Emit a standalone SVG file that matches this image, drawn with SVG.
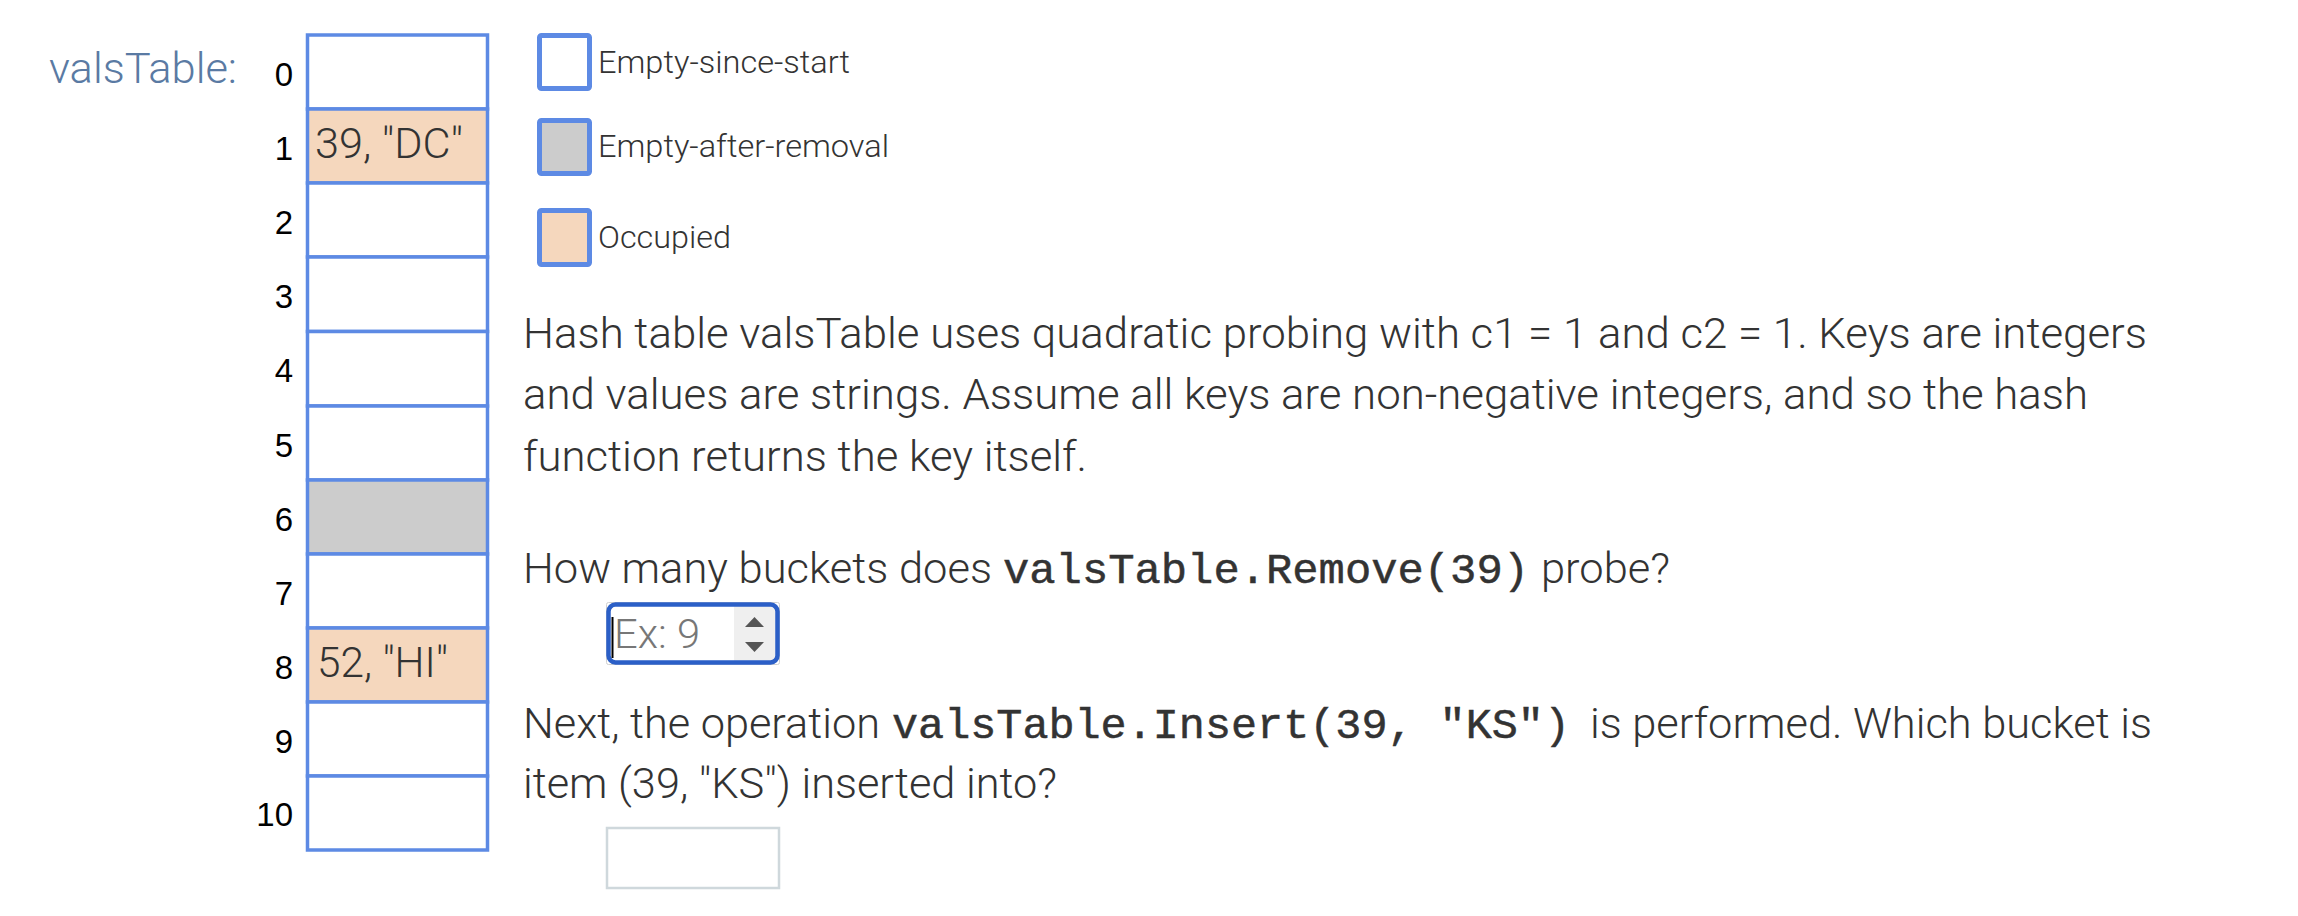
<svg xmlns="http://www.w3.org/2000/svg" width="2298" height="916" viewBox="0 0 2298 916">
<style>
.cell{stroke:#5d8ae4;stroke-width:3.5}
.empty{fill:#ffffff}
.occ{fill:#f5d7bd}
.rem{fill:#cccccc}
.idx{font-family:"Liberation Sans",Arial,sans-serif;font-size:33px;fill:#000;text-anchor:end}
.body{font-family:Roboto,"Noto Sans",sans-serif;font-weight:300;font-size:42px;fill:#333}
.leg{font-family:Roboto,"Noto Sans",sans-serif;font-weight:300;font-size:31px;fill:#333}
.mono{font-family:"Liberation Mono","Courier New",monospace;font-weight:normal;font-size:43px;fill:#333;stroke:#333;stroke-width:0.5}
.lbox{stroke:#5d8ae4;stroke-width:5}
</style>
<rect width="2298" height="916" fill="#ffffff"/>
<g id="title">
<text x="49" y="83" style="font-family:Roboto,'Noto Sans',sans-serif;font-weight:300;font-size:42px;fill:#5a7aa3" textLength="188" lengthAdjust="spacingAndGlyphs">valsTable:</text>
</g>
<g id="table">
<rect id="b0" class="cell empty" x="307.5" y="35" width="180" height="74"/>
<rect id="b1" class="cell occ" x="307.5" y="109" width="180" height="74"/>
<rect id="b2" class="cell empty" x="307.5" y="183" width="180" height="74"/>
<rect id="b3" class="cell empty" x="307.5" y="257" width="180" height="74.5"/>
<rect id="b4" class="cell empty" x="307.5" y="331.5" width="180" height="74.5"/>
<rect id="b5" class="cell empty" x="307.5" y="406" width="180" height="74"/>
<rect id="b6" class="cell rem" x="307.5" y="480" width="180" height="74"/>
<rect id="b7" class="cell empty" x="307.5" y="554" width="180" height="74"/>
<rect id="b8" class="cell occ" x="307.5" y="628" width="180" height="74"/>
<rect id="b9" class="cell empty" x="307.5" y="702" width="180" height="74"/>
<rect id="b10" class="cell empty" x="307.5" y="776" width="180" height="74"/>
<text class="body" x="315" y="158" textLength="148" lengthAdjust="spacingAndGlyphs">39, "DC"</text>
<text class="body" x="317" y="677" textLength="131" lengthAdjust="spacingAndGlyphs">52, "HI"</text>
<text class="idx" x="293" y="86">0</text>
<text class="idx" x="293" y="160">1</text>
<text class="idx" x="293" y="234">2</text>
<text class="idx" x="293" y="308">3</text>
<text class="idx" x="293" y="382">4</text>
<text class="idx" x="293" y="457">5</text>
<text class="idx" x="293" y="531">6</text>
<text class="idx" x="293" y="605">7</text>
<text class="idx" x="293" y="679">8</text>
<text class="idx" x="293" y="753">9</text>
<text class="idx" x="293" y="826">10</text>
</g>
<g id="legend">
<g id="leg-empty-start">
<rect class="lbox empty" x="539.5" y="35.5" width="50" height="53" rx="2"/>
<text class="leg" x="598" y="73" textLength="252" lengthAdjust="spacingAndGlyphs">Empty-since-start</text>
</g>
<g id="leg-empty-removal">
<rect class="lbox rem" x="539.5" y="120.5" width="50" height="53" rx="2"/>
<text class="leg" x="598" y="157" textLength="291" lengthAdjust="spacingAndGlyphs">Empty-after-removal</text>
</g>
<g id="leg-occupied">
<rect class="lbox occ" x="539.5" y="210.5" width="50" height="54" rx="2"/>
<text class="leg" x="598" y="248" textLength="133" lengthAdjust="spacingAndGlyphs">Occupied</text>
</g>
</g>
<g id="description">
<text class="body" x="523" y="348" textLength="1624" lengthAdjust="spacingAndGlyphs">Hash table valsTable uses quadratic probing with c1 = 1 and c2 = 1. Keys are integers</text>
<text class="body" x="523" y="409" textLength="1565" lengthAdjust="spacingAndGlyphs">and values are strings. Assume all keys are non-negative integers, and so the hash</text>
<text class="body" x="523" y="471" textLength="564" lengthAdjust="spacingAndGlyphs">function returns the key itself.</text>
</g>
<g id="question1">
<text class="body" x="523" y="583" textLength="469" lengthAdjust="spacingAndGlyphs">How many buckets does</text>
<text class="mono" x="1003" y="583" textLength="526" lengthAdjust="spacingAndGlyphs">valsTable.Remove(39)</text>
<text class="body" x="1541" y="583" textLength="129" lengthAdjust="spacingAndGlyphs">probe?</text>
</g>
<g id="answer1">
<rect x="606.5" y="602.5" width="173" height="62" rx="2" fill="#ffffff" stroke="#d0d0d0" stroke-width="1"/>
<rect x="734" y="606" width="42" height="55" fill="#efefef"/>
<rect x="608.5" y="604.5" width="169" height="58" rx="7" fill="none" stroke="#2b5fc7" stroke-width="4.5"/>
<line x1="612.5" y1="617" x2="612.5" y2="658" stroke="#000" stroke-width="2"/>
<text x="614" y="648" style="font-family:Roboto,'Noto Sans',sans-serif;font-weight:300;font-size:40px;fill:#777" textLength="86" lengthAdjust="spacingAndGlyphs">Ex: 9</text>
<polygon points="745,627 764,627 754.5,617" fill="#555"/>
<polygon points="745,642 764,642 754.5,652" fill="#555"/>
</g>
<g id="question2">
<text class="body" x="523" y="738" textLength="357" lengthAdjust="spacingAndGlyphs">Next, the operation</text>
<text class="mono" x="892" y="738" textLength="678" lengthAdjust="spacingAndGlyphs">valsTable.Insert(39, "KS")</text>
<text class="body" x="1590" y="738" textLength="562" lengthAdjust="spacingAndGlyphs">is performed. Which bucket is</text>
<text class="body" x="523" y="798" textLength="534" lengthAdjust="spacingAndGlyphs">item (39, "KS") inserted into?</text>
</g>
<g id="answer2">
<rect x="607" y="828" width="172" height="60" fill="#ffffff" stroke="#cfd8dc" stroke-width="2.5"/>
</g>
<g id="connectors"/>
</svg>
